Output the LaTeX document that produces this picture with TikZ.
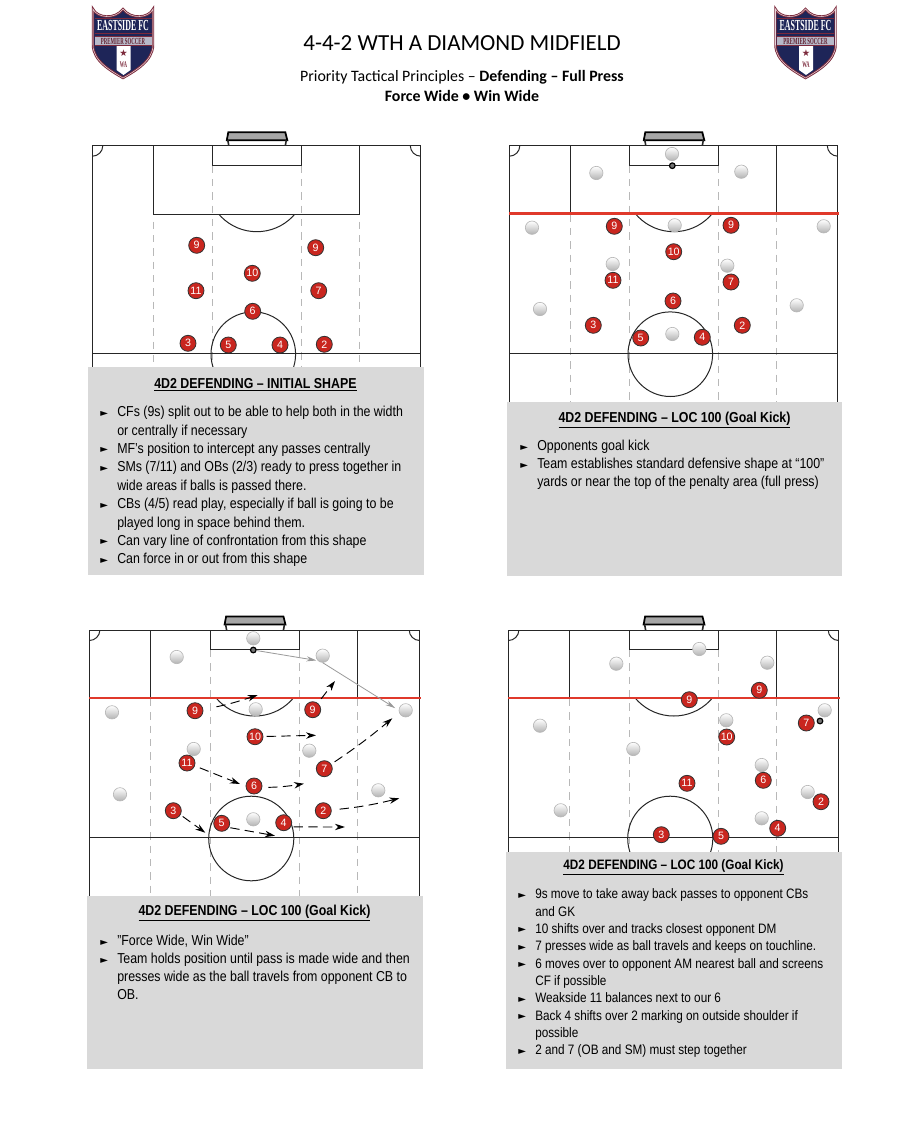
\documentclass[tikz,border=0pt]{standalone}
\usepackage{fontspec}
\usepackage{graphicx}
\usepackage{tikz}
\usetikzlibrary{arrows.meta,positioning,calc,shapes.geometric}
\setmainfont{Carlito}
\newfontfamily\bodyfont[FakeStretch=0.86]{Liberation Sans}
\newfontfamily\numfont{Liberation Sans}
\newfontfamily\crestfont[FakeStretch=0.517]{Liberation Serif}
\newfontfamily\symfont{DejaVu Sans}
\definecolor{press}{HTML}{E0392B}
\definecolor{shirt}{HTML}{C9261F}
\definecolor{maroon}{HTML}{7C2A3C}
\definecolor{navy}{HTML}{1E2558}
\definecolor{panelgrey}{HTML}{D9D9D9}

% bullet and continuation line of the coaching notes
\newcommand{\notebul}{\makebox[12.75pt][l]{\raisebox{.4pt}{\symfont\fontsize{7.5}{7.5}\selectfont ►}}}
\newcommand{\noteind}{\hspace*{12.75pt}}

% pitch: x, y of top left corner, depth down to the grey panel, xscale, first dash of outer channels
\newcommand{\drawpitch}[5]{
  \begin{scope}[shift={(#1,#2)}, xscale=#4]
    \draw[touch] (0,#3) -- (0,0) -- (328.5,0) -- (328.5,#3);
    \begin{scope}
      \clip (0,0) rectangle (328.5,20);
      \draw[touch] (0,0) circle[radius=10.5];
      \draw[touch] (328.5,0) circle[radius=10.5];
    \end{scope}
    % goal
    \draw[goalnet] (136,-13.5) -- (193,-13.5) -- (195,-5.5) -- (134.5,-5.5) -- cycle;
    \draw[touch, line width=1.2pt] (135.5,-5.5) -- (136.5,0) (194,-5.5) -- (193,0);
    % boxes
    \draw[touch] (61,0) -- (61,68.5) -- (267,68.5) -- (267,0);
    \draw[touch] (120,0) -- (120,19.5) -- (209,19.5) -- (209,0);
    \begin{scope}
      \clip (60,68.5) rectangle (268,100);
      \draw[touch] (164.5,36) circle[radius=50];
    \end{scope}
    % channels
    \draw[channel] (120,20) -- (120,#3) (209,20) -- (209,#3);
    \draw[channel] (61,#5) -- (61,#3) (267,#5) -- (267,#3);
    % halfway line and centre circle
    \draw[touch] (0,207.5) -- (328.5,207.5);
    \draw[touch] (161,208.5) circle[radius=42.3];
  \end{scope}
}

% club crest: x, y of its top left corner
\newcommand{\drawcrest}[2]{
  \begin{scope}[shift={(#1,#2)}]
    \draw[draw=maroon, line width=.7pt, double=white!80!maroon, double distance=.4pt, fill=navy]
      (0,2) .. controls (4,11) and (22,13) .. (30,2)
      .. controls (38,13) and (56,11) .. (60,2) -- (60,38) .. controls (60,54) and (42,64) .. (30,71)
      .. controls (18,64) and (0,54) .. (0,38) -- cycle;
    \fill[white!68!navy] (1.5,29.5) rectangle (58.5,38);
    \fill[white] (23.5,38) -- (37.5,38) -- (37.5,63) -- (30.5,68) -- (23.5,63) -- cycle;
    \draw[maroon, line width=.7pt] (1.5,11.5) -- (58.5,11.5) (1.5,26) -- (58.5,26) (1.5,29.5) -- (58.5,29.5) (1.5,38.5) -- (58.5,38.5);
    \node[text=white, font=\crestfont\bfseries\fontsize{11.5}{13}\selectfont] at (30,18.7) {EASTSIDE FC};
    \node[text=maroon!80!black, font=\crestfont\bfseries\fontsize{7}{7}\selectfont] at (30,34) {PREMIER SOCCER};
    \node[text=maroon, font=\symfont\fontsize{7}{7}\selectfont] at (30.5,46.5) {★};
    \node[text=maroon, font=\crestfont\bfseries\fontsize{6.5}{5}\selectfont] at (30.5,58) {WA};
  \end{scope}
}

\begin{document}
\begin{tikzpicture}[
    x=0.75pt, y=-0.75pt,
    touch/.style={draw=black!85, line width=.75pt},
    channel/.style={draw=black!28, line width=.7pt, dash pattern=on 5.5pt off 4.5pt},
    goalnet/.style={draw=black, line width=1.3pt, fill=black!35},
    pressline/.style={draw=press, line width=2.2pt},
    us/.style={
        circle, draw=black!80, line width=.6pt, fill=shirt, text=white,
        minimum size=12pt, inner sep=0pt, font=\numfont\fontsize{8}{8}\selectfont
    },
    them/.style={
        circle, draw=black!28, line width=.5pt, top color=white, bottom color=black!30,
        minimum size=10pt, inner sep=0pt
    },
    ball/.style={
        circle, draw=black, line width=.9pt, fill=black!55,
        minimum size=4.2pt, inner sep=0pt
    },
    run/.style={
        -{Stealth[length=7.5pt,width=4.8pt]}, draw=black, line width=.7pt,
        dash pattern=on 7pt off 4pt
    },
    pass/.style={
        -{Stealth[length=7.5pt,width=3.8pt]}, draw=black!40, line width=.6pt
    },
    notebox/.style={fill=panelgrey, inner sep=0pt},
    boxtitle/.style={
        font=\bodyfont\bfseries\fontsize{10.8}{12}\selectfont, inner sep=0pt
    },
    notes/.style={
        font=\bodyfont\fontsize{10.8}{#1}\selectfont, align=left,
        anchor=north west, inner sep=0pt
    }
]
\useasboundingbox (0,0) rectangle (918,1132);

% --- heading ---
\drawcrest{93}{7}
\drawcrest{775.5}{7}
\node[font=\fontsize{17.25}{20}\selectfont, inner sep=0pt] (title) at (462,43) {4-4-2 WTH A DIAMOND MIDFIELD};
\node[font=\fontsize{11.9}{14}\selectfont, inner sep=0pt] (sub) at (462,77) {Priority Tactical Principles -- \textbf{Defending -- Full Press}};
\node[font=\bfseries\fontsize{11.9}{14}\selectfont, inner sep=0pt] (motto) at (462,96) {Force Wide • Win Wide};

% --- initial shape ---
\drawpitch{92.3}{145.7}{222}{1}{76}
\node[us] (a9l) at (196.7,245.3) {9};
\node[us] (a9r) at (315.7,247.7) {9};
\node[us] (a10) at (252.3,273.3) {10};
\node[us] (a11) at (196,290.7) {11};
\node[us] (a7) at (318.7,290.7) {7};
\node[us] (a6) at (252.7,311.3) {6};
\node[us] (a3) at (188,343.3) {3};
\node[us] (a5) at (228.3,345) {5};
\node[us] (a4) at (280,345) {4};
\node[us] (a2) at (324.3,344.3) {2};

\node[notebox, minimum width=252pt, minimum height=156pt] (boxa) at (256,471) {};
\node[boxtitle] (titlea) at (255.5,385) {\underline{4D2 DEFENDING – INITIAL SHAPE}};
\node[notes=13.8pt] (notea) at (100,406) {%
\notebul CFs (9s) split out to be able to help both in the width\\
\noteind or centrally if necessary\\
\notebul MF’s position to intercept any passes centrally\\
\notebul SMs (7/11) and OBs (2/3) ready to press together in\\
\noteind wide areas if balls is passed there.\\
\notebul CBs (4/5) read play, especially if ball is going to be\\
\noteind played long in space behind them.\\
\notebul Can vary line of confrontation from this shape\\
\notebul Can force in or out from this shape};

% --- goal kick ---
\drawpitch{509.3}{145.7}{257}{1}{69}
\draw[pressline] (509.3,213.7) -- (838.5,213.7);
\node[them] (b1) at (672,154) {};
\node[them] (b2) at (596.3,173) {};
\node[them] (b3) at (741.3,171.7) {};
\node[them] (b4) at (532,227.7) {};
\node[them] (b5) at (674.7,225.3) {};
\node[them] (b6) at (823.7,226.3) {};
\node[them] (b7) at (612.7,264) {};
\node[them] (b8) at (727.3,265.7) {};
\node[them] (b9) at (540,309) {};
\node[them] (b10) at (796.7,305.3) {};
\node[them] (b11) at (672.3,334) {};
\node[ball] (bball) at (672.3,165.7) {};
\node[us] (b9l) at (614.3,226.3) {9};
\node[us] (b9r) at (731,225.3) {9};
\node[us] (b10n) at (673.7,251.7) {10};
\node[us] (b11n) at (613,280.3) {11};
\node[us] (b7n) at (731,282) {7};
\node[us] (b6n) at (673,301) {6};
\node[us] (b3n) at (593.3,325.3) {3};
\node[us] (b2n) at (742.3,325.3) {2};
\node[us] (b5n) at (640.7,338) {5};
\node[us] (b4n) at (702.3,337.3) {4};

\node[notebox, minimum width=251.25pt, minimum height=130.5pt] (boxb) at (674.5,489) {};
\node[boxtitle] (titleb) at (674.5,420) {\underline{4D2 DEFENDING – LOC 100 (Goal Kick)}};
\node[notes=13.5pt] (noteb) at (520,440) {%
\notebul Opponents goal kick\\
\notebul Team establishes standard defensive shape at “100”\\
\noteind yards or near the top of the penalty area (full press)};

% --- force wide ---
\drawpitch{89.3}{630}{266}{1.006}{69}
\draw[pressline] (89.3,698) -- (421,698);
\node[them] (c1) at (253.3,638.3) {};
\node[them] (c2) at (176.7,657) {};
\node[them] (c3) at (322.7,655.7) {};
\node[them] (c4) at (112,712.3) {};
\node[them] (c5) at (255.7,709.3) {};
\node[them] (c6) at (405.7,710.3) {};
\node[them] (c7) at (193.7,749) {};
\node[them] (c8) at (309.3,750.7) {};
\node[them] (c9) at (120,794.3) {};
\node[them] (c10) at (378.3,790.3) {};
\node[them] (c11) at (253.3,819.3) {};
\node[ball] (cball) at (253.3,650) {};
\node[us] (c9l) at (195,710.7) {9};
\node[us] (c9r) at (312.7,709.7) {9};
\node[us] (c10n) at (255,736.7) {10};
\node[us] (c11n) at (187,763) {11};
\node[us] (c7n) at (324.3,768.7) {7};
\node[us] (c6n) at (254,786) {6};
\node[us] (c3n) at (173.3,810.7) {3};
\node[us] (c2n) at (323.3,810.7) {2};
\node[us] (c5n) at (221.7,823.3) {5};
\node[us] (c4n) at (283.7,822.7) {4};

% pressing runs, free ends
\coordinate (e9l) at (257.7,695);
\coordinate (e9r) at (335,681);
\coordinate (e10) at (316,735.3);
\coordinate (e11) at (240,784);
\coordinate (e6) at (304,783.7);
\coordinate (e7) at (392.3,718.3);
\coordinate (e2) at (399.3,798.3);
\coordinate (e3) at (205.3,832.7);
\coordinate (e5) at (275,835.7);
\coordinate (e4) at (345,827);
\draw[run, shorten <=10pt] (c9l) to[bend right=4] (e9l);
\draw[run, shorten <=4pt] (c9r) -- (e9r);
\draw[run, shorten <=2.5pt] (c10n) -- (e10);
\draw[run, shorten <=4pt] (c11n.-20) -- (e11);
\draw[run, shorten <=4.5pt] (c6n.-10) to[bend right=4] (e6);
\draw[run, shorten <=3pt] (c7n) to[bend right=3] (e7);
\draw[run, shorten <=6pt] (c2n) to[bend right=4] (e2);
\draw[run, shorten <=2pt] (c3n.-30) -- (e3);
\draw[run, shorten <=1pt] (c5n.-30) -- (e5);
\draw[run, shorten <=2pt] (c4n.-30) -- (e4);
% ball travels keeper to CB to OB
\draw[pass, shorten >=1pt] (cball) -- (c3.225);
\draw[pass, shorten >=3pt] (c3.south) -- (c6.west);

\node[notebox, minimum width=252pt, minimum height=129.75pt] (boxc) at (255,982.5) {};
\node[boxtitle] (titlec) at (254.5,913) {\underline{4D2 DEFENDING – LOC 100 (Goal Kick)}};
\node[notes=13.5pt] (notec) at (100,935) {%
\notebul ”Force Wide, Win Wide”\\
\notebul Team holds position until pass is made wide and then\\
\noteind presses wide as the ball travels from opponent CB to\\
\noteind OB.};

% --- ball out wide ---
\drawpitch{508.3}{630}{222}{1.006}{69}
\draw[pressline] (508.3,698) -- (839.5,698);
\node[them] (d1) at (699.3,649) {};
\node[them] (d2) at (616.3,663.7) {};
\node[them] (d3) at (767.3,662.7) {};
\node[them] (d4) at (824.7,710.3) {};
\node[them] (d5) at (726.3,720.3) {};
\node[them] (d6) at (540,725.7) {};
\node[them] (d7) at (633.3,749) {};
\node[them] (d8) at (761.7,765) {};
\node[them] (d9) at (807.7,792) {};
\node[them] (d10) at (560.7,810.3) {};
\node[them] (d11) at (761.7,818.3) {};
\node[ball] (dball) at (820,721) {};
\node[us] (d9r) at (759.3,690.3) {9};
\node[us] (d9l) at (689.3,699.7) {9};
\node[us] (d7n) at (806.3,723) {7};
\node[us] (d10n) at (726.7,737) {10};
\node[us] (d11n) at (687,783.3) {11};
\node[us] (d6n) at (763.3,780.3) {6};
\node[us] (d2n) at (821,801.7) {2};
\node[us] (d4n) at (777.7,828.3) {4};
\node[us] (d3n) at (661.3,834.7) {3};
\node[us] (d5n) at (721,836.3) {5};

\node[notebox, minimum width=252pt, minimum height=162.75pt] (boxd) at (674,960.5) {};
\node[boxtitle, font=\bodyfont\bfseries\fontsize{10.25}{12}\selectfont] (titled) at (673.5,867) {\underline{4D2 DEFENDING – LOC 100 (Goal Kick)}};
\node[notes=13pt, font=\bodyfont\fontsize{10.25}{13}\selectfont] (noted) at (518,888.5) {%
\notebul 9s move to take away back passes to opponent CBs\\
\noteind and GK\\
\notebul 10 shifts over and tracks closest opponent DM\\
\notebul 7 presses wide as ball travels and keeps on touchline.\\
\notebul 6 moves over to opponent AM nearest ball and screens\\
\noteind CF if possible\\
\notebul Weakside 11 balances next to our 6\\
\notebul Back 4 shifts over 2 marking on outside shoulder if\\
\noteind possible\\
\notebul 2 and 7 (OB and SM) must step together};

\end{tikzpicture}
\end{document}
